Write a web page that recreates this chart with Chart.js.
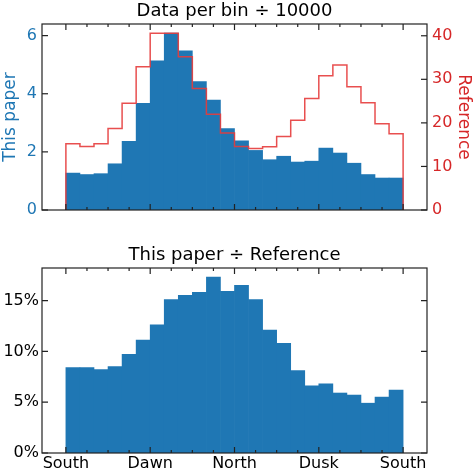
<!DOCTYPE html>
<html><head><meta charset="utf-8">
<script src="https://cdn.jsdelivr.net/npm/chart.js@4/dist/chart.umd.min.js"></script>
<style>
body{margin:0;background:#fff;width:474px;height:472px;overflow:hidden}
.box{position:absolute;left:0;width:474px;height:236px}
</style></head><body>
<div class="box" style="top:0"><canvas id="top"></canvas></div>
<div class="box" style="top:236px"><canvas id="bot"></canvas></div>
<script>
const sectorNames = ['South', 'Dawn', 'North', 'Dusk', 'South'];
const sectorPos = [0, 6, 12, 18, 24];
const thisPaper = [1.27, 1.22, 1.25, 1.59, 2.36, 3.67, 5.13, 6.09, 5.48, 4.42, 3.78, 2.80,
  2.38, 2.05, 1.73, 1.85, 1.65, 1.68, 2.13, 1.96, 1.61, 1.22, 1.10, 1.10];
const reference = [15.2, 14.6, 15.2, 18.7, 24.5, 32.9, 40.6, 40.6, 35.2, 27.9, 22.0, 17.7,
  14.6, 14.1, 14.5, 16.9, 20.6, 25.6, 30.8, 33.3, 28.3, 24.6, 19.8, 17.5];
const ratioPct = [8.4, 8.4, 8.2, 8.5, 9.7, 11.1, 12.6, 15.1, 15.5, 15.8, 17.3, 15.9,
  16.5, 15.1, 12.1, 10.8, 8.1, 6.6, 6.8, 5.9, 5.7, 4.9, 5.5, 6.2];

const BLUE = '#1f77b4', RED = '#d62728';
const FONT = 'DejaVu Sans';
Chart.defaults.font.family = FONT;
Chart.defaults.font.size = 16;

const bars = arr => arr.map((v, i) => ({x: i + 0.5, y: v}));
function steps(arr) {
  const pts = [{x: 0, y: 0}];
  arr.forEach((v, i) => pts.push({x: i, y: v}));
  pts.push({x: arr.length, y: arr[arr.length - 1]});
  pts.push({x: arr.length, y: 0});
  return pts;
}

function frame(title, rightTicks) {
  return {
    id: 'frame',
    afterDraw(c) {
      const ctx = c.ctx, a = c.chartArea;
      ctx.save();
      ctx.strokeStyle = '#222'; ctx.lineWidth = 1.2;
      ctx.strokeRect(a.left, a.top, a.right - a.left, a.bottom - a.top);
      const xs = c.scales.x;
      for (let v = 0; v <= 24.01; v += 1.5) {
        const px = xs.getPixelForValue(v), len = v % 6 === 0 ? 6 : 3;
        ctx.beginPath();
        ctx.moveTo(px, a.bottom); ctx.lineTo(px, a.bottom - len);
        ctx.moveTo(px, a.top); ctx.lineTo(px, a.top + len);
        ctx.stroke();
      }
      const ys = c.scales.y;
      ys.ticks.forEach(t => {
        const py = ys.getPixelForValue(t.value);
        ctx.beginPath();
        ctx.moveTo(a.left, py); ctx.lineTo(a.left + 6, py);
        if (!rightTicks) { ctx.moveTo(a.right, py); ctx.lineTo(a.right - 6, py); }
        ctx.stroke();
      });
      if (rightTicks) {
        const ys2 = c.scales.y2;
        ys2.ticks.forEach(t => {
          const py = ys2.getPixelForValue(t.value);
          ctx.beginPath(); ctx.moveTo(a.right, py); ctx.lineTo(a.right - 6, py); ctx.stroke();
        });
      }
      ctx.fillStyle = '#000'; ctx.font = '18px ' + FONT;
      ctx.textAlign = 'center'; ctx.textBaseline = 'middle';
      ctx.fillText(title, (a.left + a.right) / 2, a.top - 13);
      ctx.restore();
    }
  };
}

const xAxis = (showLabels, h) => ({
  type: 'linear', min: -1.7, max: 25.7, offset: false,
  grid: {display: false, drawTicks: false, offset: false}, border: {display: false},
  afterBuildTicks: s => { s.ticks = sectorPos.map(v => ({value: v})); },
  ticks: {display: showLabels, color: '#000', padding: 1, maxRotation: 0,
    callback: v => sectorNames[sectorPos.indexOf(v)]},
  afterFit: s => { s.height = h; }
});

new Chart(document.getElementById('top'), {
  data: {datasets: [
    {type: 'line', data: steps(reference), yAxisID: 'y2', stepped: true,
     borderColor: 'rgba(230,60,60,0.9)', borderWidth: 1.5, pointRadius: 0, fill: false},
    {type: 'bar', data: bars(thisPaper), yAxisID: 'y', backgroundColor: BLUE,
     barPercentage: 1, categoryPercentage: 1, borderWidth: 0}
  ]},
  options: {
    responsive: true, maintainAspectRatio: false, animation: false,
    layout: {padding: {top: 24, left: 0, right: 0, bottom: 0}},
    plugins: {legend: {display: false}, tooltip: {enabled: false}},
    scales: {
      x: xAxis(false, 26),
      y: {position: 'left', min: 0, max: 6.4, grid: {display: false, drawTicks: false},
          border: {display: false},
          afterBuildTicks: s => { s.ticks = [0, 2, 4, 6].map(v => ({value: v})); },
          ticks: {color: BLUE, padding: 5},
          title: {display: true, text: 'This paper', color: BLUE, padding: 0, font: {size: 17}},
          afterFit: s => { s.width = 42; }},
      y2: {position: 'right', min: 0, max: 42.7, grid: {display: false, drawTicks: false},
          border: {display: false},
          afterBuildTicks: s => { s.ticks = [0, 10, 20, 30, 40].map(v => ({value: v})); },
          ticks: {color: RED, padding: 5},
          title: {display: true, text: 'Reference', color: RED, padding: 0, font: {size: 17}},
          afterFit: s => { s.width = 47; }}
    }
  },
  plugins: [frame('Data per bin \u00f7 10000', true)]
});

new Chart(document.getElementById('bot'), {
  data: {datasets: [
    {type: 'bar', data: bars(ratioPct), backgroundColor: BLUE,
     barPercentage: 1, categoryPercentage: 1, borderWidth: 0}
  ]},
  options: {
    responsive: true, maintainAspectRatio: false, animation: false,
    layout: {padding: {top: 32, left: 0, right: 47, bottom: 0}},
    plugins: {legend: {display: false}, tooltip: {enabled: false}},
    scales: {
      x: xAxis(true, 19),
      y: {min: 0, max: 18.2, grid: {display: false, drawTicks: false}, border: {display: false},
          afterBuildTicks: s => { s.ticks = [0, 5, 10, 15].map(v => ({value: v})); },
          ticks: {color: '#000', padding: 3, callback: v => v + '%'},
          afterFit: s => { s.width = 42; }}
    }
  },
  plugins: [frame('This paper \u00f7 Reference', false)]
});
</script>
</body></html>
